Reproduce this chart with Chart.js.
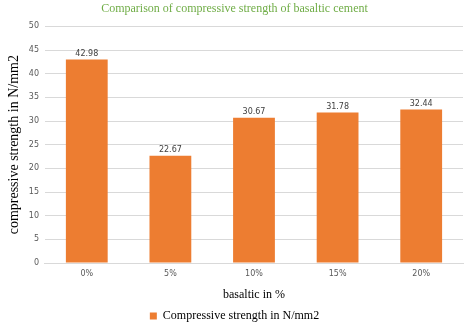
<!DOCTYPE html>
<html>
<head>
<meta charset="utf-8">
<script src="https://cdn.jsdelivr.net/npm/chart.js@4"></script>
<style>
  html, body { margin: 0; padding: 0; background: #fff; }
  #wrap { width: 474px; height: 332px; }
</style>
</head>
<body>
<div id="wrap"><canvas id="strengthChart" width="474" height="332"></canvas></div>
<script>
// chart data
const categories = ['0%', '5%', '10%', '15%', '20%'];
const strengthValues = [42.98, 22.67, 30.67, 31.78, 32.44];
const seriesName = 'Compressive strength in N/mm2';

// small inline plugin to print the value above each bar
const valueLabels = {
    id: 'valueLabels',
    afterDatasetsDraw(chart) {
        const ctx = chart.ctx;
        const meta = chart.getDatasetMeta(0);
        ctx.save();
        ctx.font = '8px "DejaVu Sans", sans-serif';
        ctx.fillStyle = '#404040';
        ctx.textAlign = 'center';
        ctx.textBaseline = 'bottom';
        meta.data.forEach((bar, i) => {
            ctx.fillText(strengthValues[i].toFixed(2), bar.x, bar.y - 2);
        });
        ctx.restore();
    }
};

new Chart(document.getElementById('strengthChart'), {
    type: 'bar',
    data: {
        labels: categories,
        datasets: [{
            label: seriesName,
            data: strengthValues,
            backgroundColor: '#ED7D31',
            borderWidth: 0,
            categoryPercentage: 1,
            barPercentage: 0.5
        }]
    },
    options: {
        responsive: false,
        animation: false,
        layout: { padding: { left: 6, right: 11, top: 0, bottom: 0 } },
        plugins: {
            title: {
                display: true,
                text: 'Comparison of compressive strength of basaltic cement',
                color: '#70AD47',
                font: { family: '"Liberation Serif", serif', size: 12, weight: 'normal' },
                padding: { top: 2, bottom: 10 }
            },
            legend: {
                position: 'bottom',
                labels: {
                    color: '#000',
                    boxWidth: 7,
                    boxHeight: 7,
                    padding: 5,
                    font: { family: '"Liberation Serif", serif', size: 12 }
                }
            },
            tooltip: { enabled: false }
        },
        scales: {
            y: {
                min: 0,
                max: 50,
                ticks: {
                    stepSize: 5,
                    color: '#595959',
                    font: { family: '"DejaVu Sans", sans-serif', size: 8 },
                    padding: 6
                },
                grid: { color: '#d9d9d9', drawTicks: false },
                border: { display: false },
                title: {
                    display: true,
                    text: 'compressive strength in N/mm2',
                    color: '#000',
                    font: { family: '"Liberation Serif", serif', size: 14 },
                    padding: { top: 0, bottom: 0 }
                }
            },
            x: {
                ticks: {
                    color: '#595959',
                    font: { family: '"DejaVu Sans", sans-serif', size: 8 },
                    padding: 6
                },
                grid: { display: false, drawTicks: false },
                border: { color: '#d9d9d9' },
                title: {
                    display: true,
                    text: 'basaltic in %',
                    color: '#000',
                    font: { family: '"Liberation Serif", serif', size: 12 },
                    padding: { top: 3, bottom: 3 }
                }
            }
        }
    },
    plugins: [valueLabels]
});
</script>
</body>
</html>
